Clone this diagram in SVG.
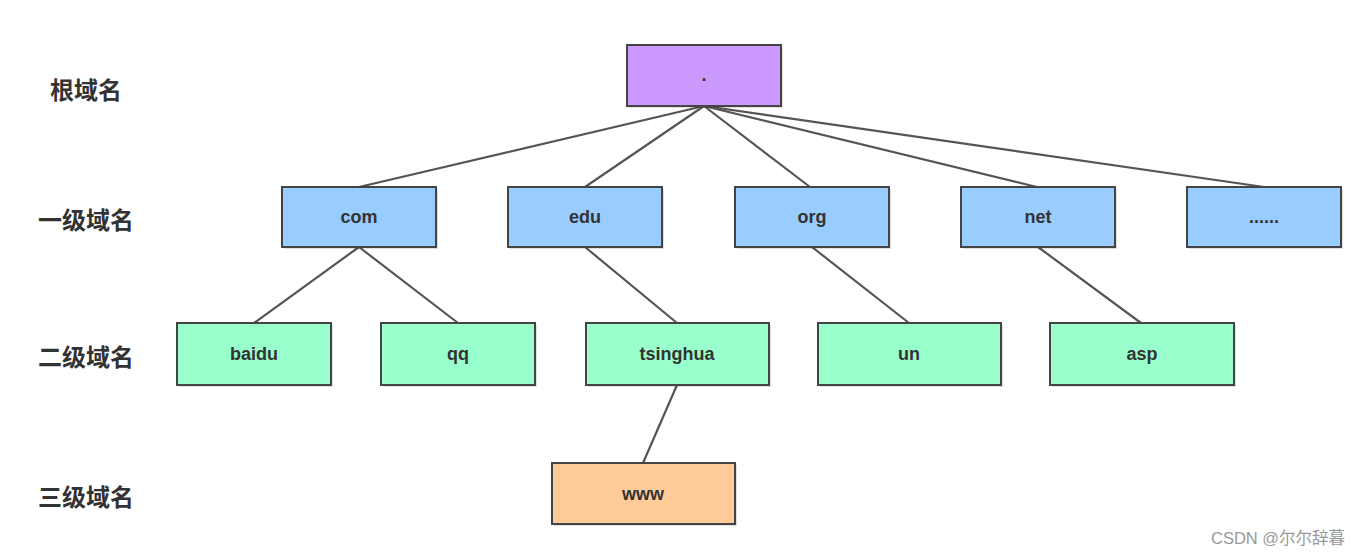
<svg xmlns="http://www.w3.org/2000/svg" width="1363" height="556" viewBox="0 0 1363 556">
<style>
.box{stroke:#444;stroke-width:2}
.shadow{fill:#000;opacity:0.12}
.t{font-family:"Liberation Sans",Arial,sans-serif;font-weight:bold;font-size:18px;fill:#333;text-anchor:middle;dominant-baseline:central}
.lbl{font-family:"Noto Sans CJK SC",sans-serif;font-weight:bold;font-size:24px;fill:#333;text-anchor:middle;dominant-baseline:central}
.c line{stroke:#555;stroke-width:2.2}
.wm{font-family:"Liberation Sans","Noto Sans CJK SC",sans-serif;font-size:16.5px;fill:#999}
.root{fill:#cc99ff}.l1{fill:#99ccff}.l2{fill:#99ffcc}.l3{fill:#ffcc99}
</style>
<rect width="1363" height="556" fill="#fff"/>
<g id="labels">
<text class="lbl" x="86" y="88">根域名</text>
<text class="lbl" x="86" y="218">一级域名</text>
<text class="lbl" x="86" y="355">二级域名</text>
<text class="lbl" x="86" y="495">三级域名</text>
</g>
<g class="c" id="connectors">
<line x1="704" y1="106" x2="359" y2="187"/>
<line x1="704" y1="106" x2="585" y2="187"/>
<line x1="704" y1="106" x2="810" y2="187"/>
<line x1="704" y1="106" x2="1037" y2="187"/>
<line x1="704" y1="106" x2="1264" y2="187"/>
<line x1="359" y1="247" x2="254" y2="323"/>
<line x1="359" y1="247" x2="458" y2="323"/>
<line x1="585" y1="247" x2="677" y2="323"/>
<line x1="812" y1="247" x2="909" y2="323"/>
<line x1="1038" y1="247" x2="1141" y2="323"/>
<line x1="677" y1="385" x2="643" y2="463"/>
</g>
<g id="n-root"><rect class="shadow" x="629" y="47" width="154" height="61"/><rect class="box root" x="627" y="45" width="154" height="61"/><text class="t" x="704" y="75">.</text></g>
<g id="n-com"><rect class="shadow" x="284" y="189" width="154" height="60"/><rect class="box l1" x="282" y="187" width="154" height="60"/><text class="t" x="359" y="217">com</text></g>
<g id="n-edu"><rect class="shadow" x="510" y="189" width="154" height="60"/><rect class="box l1" x="508" y="187" width="154" height="60"/><text class="t" x="585" y="217">edu</text></g>
<g id="n-org"><rect class="shadow" x="737" y="189" width="154" height="60"/><rect class="box l1" x="735" y="187" width="154" height="60"/><text class="t" x="812" y="217">org</text></g>
<g id="n-net"><rect class="shadow" x="963" y="189" width="154" height="60"/><rect class="box l1" x="961" y="187" width="154" height="60"/><text class="t" x="1038" y="217">net</text></g>
<g id="n-more"><rect class="shadow" x="1189" y="189" width="154" height="60"/><rect class="box l1" x="1187" y="187" width="154" height="60"/><text class="t" x="1264" y="217">......</text></g>
<g id="n-baidu"><rect class="shadow" x="179" y="325" width="154" height="62"/><rect class="box l2" x="177" y="323" width="154" height="62"/><text class="t" x="254" y="354">baidu</text></g>
<g id="n-qq"><rect class="shadow" x="383" y="325" width="154" height="62"/><rect class="box l2" x="381" y="323" width="154" height="62"/><text class="t" x="458" y="354">qq</text></g>
<g id="n-tsinghua"><rect class="shadow" x="588" y="325" width="183" height="62"/><rect class="box l2" x="586" y="323" width="183" height="62"/><text class="t" x="677" y="354">tsinghua</text></g>
<g id="n-un"><rect class="shadow" x="820" y="325" width="183" height="62"/><rect class="box l2" x="818" y="323" width="183" height="62"/><text class="t" x="909" y="354">un</text></g>
<g id="n-asp"><rect class="shadow" x="1052" y="325" width="184" height="62"/><rect class="box l2" x="1050" y="323" width="184" height="62"/><text class="t" x="1142" y="354">asp</text></g>
<g id="n-www"><rect class="shadow" x="554" y="465" width="183" height="61"/><rect class="box l3" x="552" y="463" width="183" height="61"/><text class="t" x="643" y="494">www</text></g>
<text class="wm" x="1211" y="544">CSDN @尔尔辞暮</text>
</svg>
